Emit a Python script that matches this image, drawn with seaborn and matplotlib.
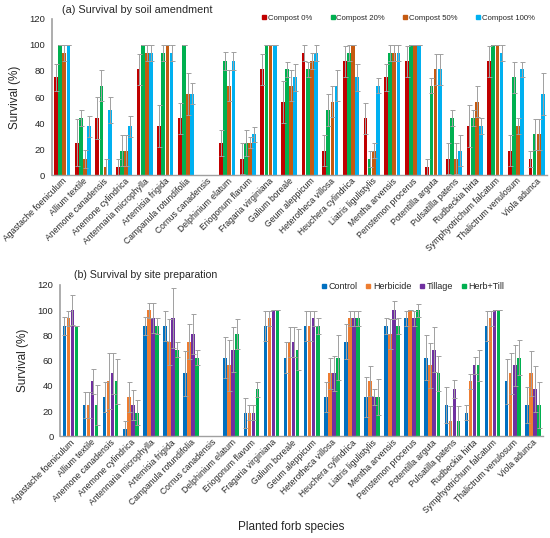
import numpy as np
import pandas as pd
import seaborn as sns
import matplotlib.pyplot as plt
from matplotlib.lines import Line2D

# species (x categories)
species = ['Agastache foeniculum', 'Allium textile', 'Anemone canadensis', 'Anemone cylindrica',
           'Antennaria microphylla', 'Artemisia frigida', 'Campanula rotundifolia', 'Cornus canadensis',
           'Delphinium elatum', 'Eriogonum flavum', 'Fragaria virginiana', 'Galium boreale',
           'Geum aleppicum', 'Heterotheca villosa', 'Heuchera cylindrica', 'Liatris ligulistylis',
           'Mentha arvensis', 'Penstemon procerus', 'Potentilla arguta', 'Pulsatilla patens',
           'Rudbeckia hirta', 'Symphyotrichum falcatum', 'Thalictrum venulosum', 'Viola adunca']

# (a) soil amendment
amend_levels = ['Compost 0%', 'Compost 20%', 'Compost 50%', 'Compost 100%']
c0 = [75, 25, 43.75, 6.25, 81.25, 37.5, 43.75, 0, 25, 12.5, 81.25, 56.25,
      93.75, 18.75, 87.5, 43.75, 75, 87.5, 6.25, 12.5, 37.5, 87.5, 18.75, 12.5]
c20 = [100, 43.75, 68.75, 18.75, 100, 93.75, 100, 0, 87.5, 25, 100, 81.25,
       81.25, 50, 93.75, 12.5, 93.75, 100, 68.75, 43.75, 43.75, 100, 75, 31.25]
c50 = [93.75, 12.5, 6.25, 18.75, 93.75, 100, 62.5, 0, 68.75, 25, 100, 68.75,
       87.5, 56.25, 100, 18.75, 93.75, 100, 81.25, 12.5, 56.25, 100, 37.5, 31.25]
c100 = [100, 37.5, 50, 37.5, 93.75, 93.75, 62.5, 0, 87.5, 31.25, 100, 75,
        93.75, 68.75, 75, 68.75, 93.75, 100, 81.25, 18.75, 37.5, 93.75, 81.25, 62.5]
c0_se = [10, 18, 16, 6, 12, 16, 12, 0, 10, 12, 12, 16, 6, 12, 12, 12, 10, 12, 6, 12, 16, 12, 12, 6]
c20_se = [0, 6, 12, 12, 0, 6, 0, 0, 7, 10, 0, 6, 6, 12, 6, 6, 6, 0, 6, 6, 6, 0, 12, 12]
c50_se = [6, 7, 6, 12, 6, 0, 16, 0, 12, 4, 0, 12, 6, 12, 0, 6, 6, 0, 12, 12, 12, 0, 6, 12]
c100_se = [0, 8, 10, 8, 6, 6, 8, 0, 7, 6, 0, 10, 6, 12, 10, 6, 6, 0, 12, 12, 6, 6, 6, 16]

# (b) site preparation
prep_levels = ['Control', 'Herbicide', 'Tillage', 'Herb+Till']
ctrl = [87.5, 25, 31.25, 6.25, 87.5, 87.5, 50, 0, 62.5, 18.75, 87.5, 62.5,
        87.5, 31.25, 75, 31.25, 87.5, 93.75, 62.5, 25, 18.75, 87.5, 43.75, 25]
herb = [93.75, 25, 43.75, 31.25, 100, 75, 75, 0, 56.25, 18.75, 93.75, 75,
        87.5, 50, 93.75, 43.75, 81.25, 100, 56.25, 12.5, 43.75, 93.75, 50, 50]
till = [100, 43.75, 50, 25, 93.75, 93.75, 81.25, 0, 68.75, 18.75, 100, 75,
        93.75, 50, 93.75, 31.25, 100, 93.75, 68.75, 37.5, 56.25, 100, 56.25, 37.5]
hbtl = [87.5, 25, 43.75, 18.75, 87.5, 68.75, 62.5, 0, 81.25, 37.5, 100, 68.75,
        87.5, 62.5, 93.75, 31.25, 87.5, 100, 50, 12.5, 56.25, 100, 62.5, 25]
ctrl_se = [7, 10, 12, 6, 7, 12, 18, 0, 16, 12, 12, 12, 12, 12, 14, 16, 6, 6, 18, 14, 6, 12, 18, 14]
herb_se = [6, 10, 22, 12, 6, 18, 14, 0, 20, 6, 6, 12, 12, 12, 6, 12, 12, 0, 18, 12, 6, 6, 16, 18]
till_se = [12, 10, 16, 12, 12, 24, 16, 0, 18, 6, 0, 12, 6, 14, 6, 6, 7, 6, 18, 7, 7, 0, 16, 18]
hbtl_se = [0, 16, 18, 10, 6, 6, 6, 0, 12, 6, 0, 16, 6, 18, 6, 14, 6, 5, 14, 12, 12, 0, 14, 18]

amend_colors = ['#C00000', '#00B050', '#C55A11', '#00B0F0']
prep_colors = ['#0070C0', '#ED7D31', '#7030A0', '#00B050']


def long_df(levels, series):
    rows = []
    for lev, vals in zip(levels, series):
        for sp, v in zip(species, vals):
            rows.append({'Species': sp, 'Treatment': lev, 'Survival': v})
    return pd.DataFrame(rows)


sns.set_theme(style='white')
plt.rcParams['font.family'] = ['Liberation Sans', 'DejaVu Sans']

fig = plt.figure(figsize=(5.5, 5.38), dpi=100)
ax1 = fig.add_axes([0.0945, 0.6747, 0.9000, 0.2900])
ax2 = fig.add_axes([0.1098, 0.1887, 0.8772, 0.2816])


def draw(ax, levels, series, errs, colors):
    df = long_df(levels, series)
    sns.barplot(data=df, x='Species', y='Survival', hue='Treatment', hue_order=levels,
                palette=colors, width=0.8, gap=0.1, errorbar=None, ax=ax,
                saturation=1, legend=False, linewidth=0)
    for cont, err, vals in zip(ax.containers, errs, series):
        for bar, e, v in zip(cont, err, vals):
            if v == 0:
                continue
            cx = bar.get_x() + bar.get_width() / 2
            ax.errorbar(cx, v, yerr=e, color='#A0A0A0', elinewidth=0.7,
                        capsize=1.8, capthick=0.7, fmt='none')
    ax.set_xlim(-0.5, len(species) - 0.5)
    ax.set_ylim(0, 120)
    ax.set_yticks(range(0, 121, 20))
    ax.set_xlabel('')
    ax.set_ylabel('Survival (%)', fontsize=8.5, labelpad=6)
    ax.tick_params(axis='y', labelsize=6.8, length=0, pad=5)
    ax.tick_params(axis='x', labelsize=6.2, length=0, pad=1)
    ax.set_xticks(range(len(species)))
    ax.set_xticklabels(species, rotation=45, ha='right', rotation_mode='anchor')
    for s in ['top', 'right']:
        ax.spines[s].set_visible(False)
    ax.spines['left'].set_color('#A0A0A0')
    ax.spines['bottom'].set_color('#A0A0A0')
    ax.spines['left'].set_linewidth(1.2)
    ax.spines['bottom'].set_linewidth(1.0)
    handles = [Line2D([], [], marker='s', linestyle='none', markersize=3.2,
                      color=c) for c in colors]
    return handles


h1 = draw(ax1, amend_levels, [c0, c20, c50, c100], [c0_se, c20_se, c50_se, c100_se], amend_colors)
h2 = draw(ax2, prep_levels, [ctrl, herb, till, hbtl], [ctrl_se, herb_se, till_se, hbtl_se], prep_colors)

fig.legend(h1, amend_levels, loc='center left', bbox_to_anchor=(0.477, 0.966), ncol=4,
           frameon=False, fontsize=5.6, handlelength=0.5, handletextpad=0.2, columnspacing=2.4,
           borderpad=0, borderaxespad=0)
fig.legend(h2, prep_levels, loc='center left', bbox_to_anchor=(0.585, 0.467), ncol=4,
           frameon=False, fontsize=6.5, handlelength=0.5, handletextpad=0.25, columnspacing=0.95,
           borderpad=0, borderaxespad=0)

fig.text(0.25, 0.981, '(a) Survival by soil amendment', fontsize=7.8, ha='center', va='center')
fig.text(0.264, 0.489, '(b) Survival by site preparation', fontsize=7.6, ha='center', va='center')
fig.text(0.53, 0.021, 'Planted forb species', fontsize=8.5, ha='center', va='center')

fig.savefig('out.png', dpi=100)
